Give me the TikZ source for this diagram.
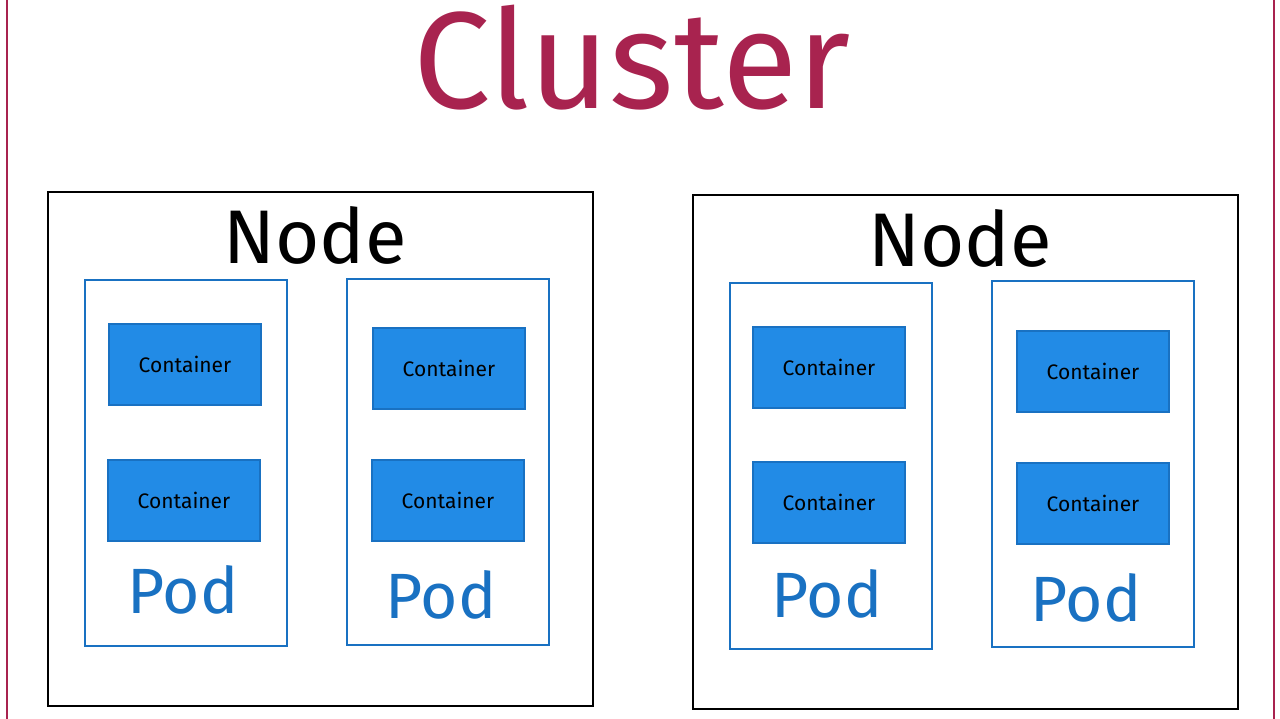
\documentclass[tikz,border=0pt]{standalone}
\usepackage{fontspec}
\setmainfont{Fira Sans}
\usetikzlibrary{calc}
\definecolor{clu}{HTML}{A8234F}
\definecolor{cfill}{HTML}{228BE6}
\definecolor{cline}{HTML}{1971C2}
\begin{document}
\begin{tikzpicture}[x=1pt,y=-1pt,
 nodebox/.style={draw=black,line width=1.6pt},
 podbox/.style={draw=cline,line width=1.8pt},
 cont/.style={draw=cline,fill=cfill,line width=2pt},
 ctext/.style={font=\fontsize{21}{21}\selectfont},
 podtext/.style={text=cline,font=\fontsize{64}{64}\selectfont},
 nodetext/.style={font=\fontsize{76}{76}\selectfont}]
\useasboundingbox (0,0) rectangle (1280,719);
\draw[clu,line width=2.5pt] (7,-5) -- (7,725);
\draw[clu,line width=2.5pt] (1274,-5) -- (1274,725);
\node[text=clu,font=\fontsize{138}{138}\selectfont] (cl) at (632,58) {Cluster};
\foreach \n/\x/\y in {n1/48/192,n2/693/195}{
 \draw[nodebox] (\x,\y) rectangle ++(545,514);
}
\node[nodetext] (t1) at (315,235) {Node};
\node[nodetext] (t2) at (960,238) {Node};
\foreach \p/\x/\y in {p1/85/280,p2/347/279,p3/730/283,p4/992/281}{
 \draw[podbox] (\x,\y) rectangle ++(202,366);
}
\node[podtext] (l1) at (183,590) {Pod};
\node[podtext] (l2) at (441,595) {Pod};
\node[podtext] (l3) at (827,594) {Pod};
\node[podtext] (l4) at (1086,598) {Pod};
\foreach \c/\x/\y in {c1/109/324,c2/108/460,c3/373/328,c4/372/460,c5/753/327,c6/753/462,c7/1017/331,c8/1017/463}{
 \draw[cont] (\x,\y) rectangle ++(152,81);
 \node[ctext] (\c) at ($(\x,\y)+(76,40)$) {Container};
}
\end{tikzpicture}
\end{document}
